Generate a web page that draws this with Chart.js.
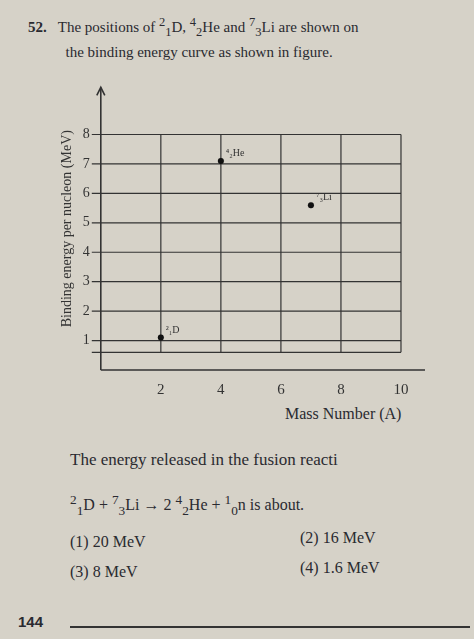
<!DOCTYPE html>
<html><head><meta charset="utf-8">
<script src="https://cdn.jsdelivr.net/npm/chart.js@4/dist/chart.umd.min.js"></script>
<style>
body{margin:0;width:474px;height:639px;background:#d6d2c8;font-family:"Liberation Serif",serif;color:#2a2a30;position:relative;overflow:hidden}
.t{position:absolute;font-size:15px;line-height:20px}
#wrap{position:absolute;left:55px;top:76px;width:375px;height:326px}
</style></head><body>
<div class="t" style="left:28px;top:12px;width:440px"><b>52.</b>&nbsp;&nbsp; The positions of <sup>2</sup><sub>1</sub>D, <sup>4</sup><sub>2</sub>He and <sup>7</sup><sub>3</sub>Li are shown on<br>&nbsp;&nbsp;&nbsp;&nbsp;&nbsp;&nbsp;&nbsp;&nbsp;&nbsp;&nbsp;the binding energy curve as shown in figure.</div>
<div id="wrap"><canvas id="c"></canvas></div>
<div class="t" style="left:285px;top:404px;font-size:16px">Mass Number (A)</div>
<div class="t" style="left:70px;top:450px;font-size:17px">The energy released in the fusion reacti</div>
<div class="t" style="left:70px;top:490px;font-size:16px"><sup>2</sup><sub>1</sub>D + <sup>7</sup><sub>3</sub>Li → 2 <sup>4</sup><sub>2</sub>He + <sup>1</sup><sub>0</sub>n is about.</div>
<div class="t" style="left:70px;top:532px;font-size:16px">(1) 20 MeV</div>
<div class="t" style="left:300px;top:528px;font-size:16px">(2) 16 MeV</div>
<div class="t" style="left:70px;top:562px;font-size:16px">(3) 8 MeV</div>
<div class="t" style="left:300px;top:558px;font-size:16px">(4) 1.6 MeV</div>
<div class="t" style="left:18px;top:612px;font-size:15px;font-family:'Liberation Sans'"><b>144</b></div>
<div style="position:absolute;left:70px;top:626px;width:400px;border-top:2px solid #333"></div>
<script>
const nuclei=["²₁D","⁴₂He","⁷₃Li"];
const massNumbers=[2,4,7];
const bindingEnergy=[1.1,7.1,5.6];
const xTicks=[2,4,6,8,10];
const yTicks=[1,2,3,4,5,6,7,8];
const gridPlugin={id:'g',beforeDatasetsDraw(ch){
 const c=ch.ctx,x=ch.scales.x,y=ch.scales.y;c.save();c.strokeStyle='#333';c.lineWidth=1.2;
 xTicks.forEach(v=>{c.beginPath();c.moveTo(x.getPixelForValue(v),y.getPixelForValue(0.6));c.lineTo(x.getPixelForValue(v),y.getPixelForValue(8));c.stroke();});
 yTicks.concat([0.6]).forEach(v=>{c.beginPath();c.moveTo(x.getPixelForValue(-0.3),y.getPixelForValue(v));c.lineTo(x.getPixelForValue(10),y.getPixelForValue(v));c.stroke();});
 c.lineWidth=1.6;const x0=x.getPixelForValue(0),y0=y.getPixelForValue(0);
 c.beginPath();c.moveTo(x0,y0);c.lineTo(x0,y.getPixelForValue(9.6));c.moveTo(x0,y0);c.lineTo(x.getPixelForValue(10.8),y0);c.stroke();
 let ty=y.getPixelForValue(9.6);c.beginPath();c.moveTo(x0-4,ty+8);c.lineTo(x0,ty);c.lineTo(x0+4,ty+8);c.stroke();
 c.font='10px "Liberation Serif"';c.fillStyle='#333';
 ch.getDatasetMeta(0).data.forEach((p,i)=>c.fillText(nuclei[i],p.x+5,p.y-5));
 c.restore();}};
new Chart(document.getElementById('c'),{type:'scatter',
 data:{datasets:[{data:massNumbers.map((m,i)=>({x:m,y:bindingEnergy[i]})),backgroundColor:'#111',pointRadius:3}]},
 options:{responsive:true,maintainAspectRatio:false,animation:false,
  plugins:{legend:{display:false},tooltip:{enabled:false}},
  layout:{padding:{top:10,right:4}},
  scales:{
   x:{min:0,max:10.8,border:{display:false},grid:{display:false},afterBuildTicks:s=>{s.ticks=xTicks.map(v=>({value:v}))},ticks:{color:'#333',font:{size:15,family:'Liberation Serif'}}},
   y:{min:0,max:9.6,border:{display:false},grid:{display:false},afterBuildTicks:s=>{s.ticks=yTicks.map(v=>({value:v}))},ticks:{color:'#333',font:{size:14,family:'Liberation Serif'}},
      title:{display:true,text:'Binding energy per nucleon (MeV)',color:'#333',font:{size:14,family:'Liberation Serif'}}}
  }},plugins:[gridPlugin]});
</script></body></html>
